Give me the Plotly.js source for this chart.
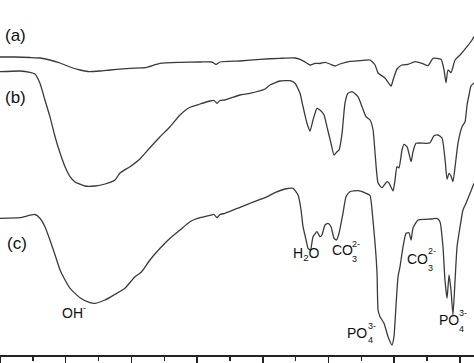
<!DOCTYPE html>
<html>
<head>
<meta charset="utf-8">
<script src="https://cdn.plot.ly/plotly-3.0.1.min.js"></script>
<style>html,body{margin:0;padding:0;background:#fff;}#chart{width:474px;height:363px;}</style>
</head>
<body>
<div id="chart"></div>
<script>
// Wavenumber (cm^-1) and transmittance (a.u., offset per trace)
const wnA = [4000,3886,3772,3696,3620,3543,3467,3391,3330,3239,3163,3011,2897,2782,2630,2478,2387,2356,2326,2174,2021,1869,1755,1717,1679,1641,1603,1565,1527,1489,1451,1413,1337,1260,1184,1146,1123,1070,1024,1009,979,941,895,842,789,743,705,644,621,606,591,568,537,499,446,408,393];
const tA  = [298,298,297.5,297,295,292,288,285,283.5,284,285,286.7,287.3,291.7,292.7,293,293,290.5,293,294,295.7,296.7,297,295.7,293,290,291.7,291.5,292.7,291,289,291,293.7,294.3,295,290,282,277,269,275,286,290,290.7,293.3,291.7,289.3,296.7,295.7,285,272.3,285,282.3,295,300,308.3,315,318.3];

const wnB = [4000,3848,3772,3734,3696,3658,3620,3581,3543,3505,3467,3429,3353,3277,3201,3125,3087,3011,2935,2859,2782,2706,2630,2554,2478,2402,2371,2349,2326,2288,2174,2098,1983,1945,1869,1793,1755,1717,1694,1664,1641,1618,1588,1565,1534,1512,1481,1458,1435,1420,1397,1375,1352,1321,1276,1245,1215,1184,1161,1146,1123,1093,1055,1040,1009,994,979,964,941,926,903,888,872,857,834,758,728,697,667,636,613,598,583,568,553,537,515,484,461,446,431,416,393];
const tB  = [283.3,284,282.7,281,271.7,255,238.3,218.3,202,188.3,178.3,173,169,169,171,175,182,188.3,196,207.3,218.3,228.3,240,247.7,251,254,254.5,251.7,254.5,255,260,261.7,266,270,274,274.3,271.7,261.7,248.3,231.7,224,235,246.7,245,240,228.3,211.7,200,203.3,205,221.7,251.7,261.7,263.3,258.3,248.3,238.3,235,225,202,172,167.3,173.3,172,164,175,188.3,187,205,210.7,208.3,201.7,193.3,203.3,211.7,211.7,212.3,219.3,220,216.7,195,175.7,181.7,179,173.3,188.3,211.7,228.3,233.3,250,260,269,272];

const wnC = [4000,3848,3734,3696,3658,3620,3581,3543,3505,3467,3391,3315,3277,3201,3125,3049,2973,2935,2912,2859,2782,2706,2630,2554,2478,2402,2371,2349,2326,2288,2174,2098,1983,1907,1831,1770,1732,1709,1694,1671,1656,1637,1618,1588,1565,1550,1527,1504,1481,1458,1439,1420,1390,1367,1337,1276,1215,1184,1169,1146,1131,1123,1108,1078,1047,1017,1002,987,971,956,933,910,888,872,857,819,766,713,675,652,629,614,598,583,568,553,537,522,499,477,454,423,393];
const tC  = [136.7,137.3,140.5,136.7,128.3,115,100,85,75,66.7,57.3,52.3,51.7,55,60.7,66.7,78.3,81.7,85,95,106.7,116.7,125,133.3,137.3,139.7,140.5,137.3,140.5,141.7,147.7,151.7,157.3,162.3,166,166.7,160,145,128.3,115,106.7,105,118.3,123.3,118.3,120,130,131.7,128.3,116.7,115,121.7,141.7,158.3,163.3,164.3,161.7,159.5,145,111.7,82,45,38.3,31.7,18.3,10,18.3,48.3,78.3,88.3,108.3,121.7,122.3,115,127,135,135.7,136,136.7,133.3,108.3,75,56.7,80,65,40,75,108.3,128.3,145,151.7,161.7,171.7];

// Labels
const traceLabels = ["(a)", "(b)", "(c)"];
const traceLabelX = [3882, 3882, 3871];
const traceLabelY = [320, 258, 112];

const bandMain = ["OH", "H<sub>2</sub>O", "CO", "CO", "PO", "PO"];
const bandMainX = [3448, 1664, 1397, 823, 1283, 583];
const bandMainY = [42, 101, 105, 96, 22, 35];
const bandSup = ["-", "", "2-", "2-", "3-", "3-"];
const bandSupX = [3358, 0, 1289, 711, 1167, 475];
const bandSupY = [47, 0, 111, 104, 29, 42];
const bandSub = ["", "", "3", "3", "4", "4"];
const bandSubX = [0, 0, 1304, 722, 1179, 486];
const bandSubY = [0, 0, 96, 87, 15, 26];

const lineStyle = {color: '#3a3a3a', width: 1.3, shape: 'spline', smoothing: 0.5};
const data = [
  {x: wnA, y: tA, type: 'scatter', mode: 'lines', line: lineStyle, hoverinfo: 'skip'},
  {x: wnB, y: tB, type: 'scatter', mode: 'lines', line: lineStyle, hoverinfo: 'skip'},
  {x: wnC, y: tC, type: 'scatter', mode: 'lines', line: lineStyle, hoverinfo: 'skip'}
];

const font = 'Liberation Sans, Arial, sans-serif';
const annotations = [];
traceLabels.forEach((t, i) => annotations.push({
  x: traceLabelX[i], y: traceLabelY[i], xref: 'x', yref: 'y', text: t, showarrow: false,
  xanchor: 'center', yanchor: 'middle', font: {family: font, size: 17, color: '#111'}
}));
bandMain.forEach((t, i) => {
  annotations.push({x: bandMainX[i], y: bandMainY[i], xref: 'x', yref: 'y', text: t, showarrow: false,
    xanchor: 'center', yanchor: 'middle', font: {family: font, size: 14, color: '#111'}});
  if (bandSup[i]) annotations.push({x: bandSupX[i], y: bandSupY[i], xref: 'x', yref: 'y', text: bandSup[i], showarrow: false,
    xanchor: 'center', yanchor: 'middle', font: {family: font, size: 9, color: '#111'}});
  if (bandSub[i]) annotations.push({x: bandSubX[i], y: bandSubY[i], xref: 'x', yref: 'y', text: bandSub[i], showarrow: false,
    xanchor: 'center', yanchor: 'middle', font: {family: font, size: 9, color: '#111'}});
});

const layout = {
  width: 474, height: 363,
  margin: {l: 0, r: 0, t: 0, b: 8, pad: 0},
  paper_bgcolor: '#fff', plot_bgcolor: '#fff',
  showlegend: false,
  xaxis: {
    range: [4000, 393], showgrid: false, zeroline: false,
    showline: true, linecolor: '#222', linewidth: 1.5,
    ticks: 'outside', tick0: 0, dtick: 500, ticklen: 8, tickwidth: 1.5, tickcolor: '#222',
    showticklabels: false,
    minor: {ticks: 'outside', dtick: 250, ticklen: 4, tickwidth: 1.5, tickcolor: '#222', showgrid: false}
  },
  yaxis: {
    range: [0, 355], showgrid: false, zeroline: false,
    showline: true, linecolor: '#b0b0b0', linewidth: 5,
    ticks: '', showticklabels: false
  },
  annotations: annotations
};

Plotly.newPlot('chart', data, layout, {displayModeBar: false, staticPlot: true});
</script>
</body>
</html>
